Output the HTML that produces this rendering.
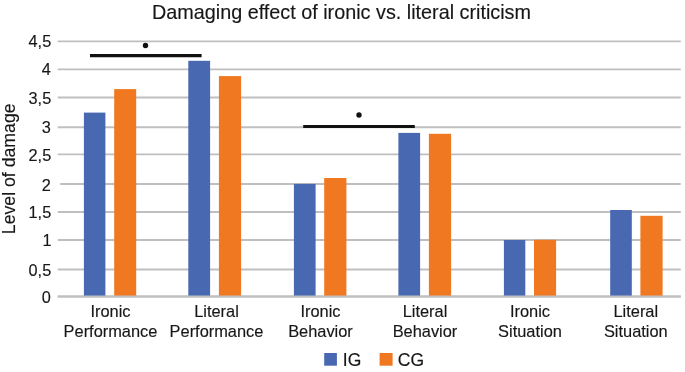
<!DOCTYPE html>
<html lang="en"><head><meta charset="utf-8"><title>Damaging effect of ironic vs. literal criticism</title>
<style>
html,body{margin:0;padding:0;background:#fff;}
body{width:685px;height:372px;overflow:hidden;}
svg{display:block;font-family:"Liberation Sans",Arial,sans-serif;fill:#171717;}
text{stroke:#171717;stroke-width:0.15px;}
</style></head><body>
<svg width="685" height="372" viewBox="0 0 685 372">
<rect width="685" height="372" fill="#fff"/>
<line x1="57.7" x2="680.8" y1="296.50" y2="296.50" stroke="#BFBFBF" stroke-width="1.9"/>
<line x1="57.7" x2="680.8" y1="269.45" y2="269.45" stroke="#BFBFBF" stroke-width="1.9"/>
<line x1="57.7" x2="680.8" y1="240.00" y2="240.00" stroke="#BFBFBF" stroke-width="1.9"/>
<line x1="57.7" x2="680.8" y1="212.00" y2="212.00" stroke="#BFBFBF" stroke-width="1.9"/>
<line x1="60.2" x2="680.8" y1="184.00" y2="184.00" stroke="#BFBFBF" stroke-width="1.9"/>
<line x1="57.7" x2="680.8" y1="154.40" y2="154.40" stroke="#BFBFBF" stroke-width="1.9"/>
<line x1="57.7" x2="680.8" y1="127.20" y2="127.20" stroke="#BFBFBF" stroke-width="1.9"/>
<line x1="57.7" x2="680.8" y1="97.50" y2="97.50" stroke="#BFBFBF" stroke-width="1.9"/>
<line x1="57.7" x2="680.8" y1="69.35" y2="69.35" stroke="#BFBFBF" stroke-width="1.9"/>
<line x1="57.7" x2="680.8" y1="41.35" y2="41.35" stroke="#BFBFBF" stroke-width="1.9"/>
<rect x="83.9" y="112.6" width="21.5" height="183.90" fill="#4868B1"/>
<rect x="114.2" y="89.1" width="22.0" height="207.40" fill="#F07820"/>
<rect x="188.3" y="60.8" width="21.8" height="235.70" fill="#4868B1"/>
<rect x="218.9" y="76.1" width="22.2" height="220.40" fill="#F07820"/>
<rect x="293.9" y="183.9" width="21.7" height="112.60" fill="#4868B1"/>
<rect x="324.2" y="178.0" width="22.2" height="118.50" fill="#F07820"/>
<rect x="398.4" y="132.9" width="21.7" height="163.60" fill="#4868B1"/>
<rect x="428.9" y="133.8" width="22.2" height="162.70" fill="#F07820"/>
<rect x="503.9" y="240.0" width="21.4" height="56.50" fill="#4868B1"/>
<rect x="534.0" y="239.8" width="22.1" height="56.70" fill="#F07820"/>
<rect x="610.2" y="210.0" width="21.6" height="86.50" fill="#4868B1"/>
<rect x="640.4" y="215.8" width="22.2" height="80.70" fill="#F07820"/>
<line x1="57.7" x2="680.8" y1="296.5" y2="296.5" stroke="#BFBFBF" stroke-width="1.9"/>
<line x1="90" x2="201.6" y1="55.7" y2="55.7" stroke="#111" stroke-width="3.2"/>
<circle cx="145.5" cy="45.5" r="2.7" fill="#111"/>
<line x1="303.2" x2="414.8" y1="126.5" y2="126.5" stroke="#111" stroke-width="3.1"/>
<circle cx="359" cy="115.0" r="2.7" fill="#111"/>
<text x="50.8" y="302.90" font-size="16.3" text-anchor="end">0</text>
<text x="51.2" y="275.85" font-size="16.3" text-anchor="end">0,5</text>
<text x="51.6" y="245.70" font-size="16.3" text-anchor="end">1</text>
<text x="51.2" y="218.17" font-size="16.3" text-anchor="end">1,5</text>
<text x="50.8" y="190.70" font-size="16.3" text-anchor="end">2</text>
<text x="51.2" y="160.80" font-size="16.3" text-anchor="end">2,5</text>
<text x="50.8" y="132.80" font-size="16.3" text-anchor="end">3</text>
<text x="51.2" y="103.65" font-size="16.3" text-anchor="end">3,5</text>
<text x="50.8" y="75.10" font-size="16.3" text-anchor="end">4</text>
<text x="51.2" y="46.70" font-size="16.3" text-anchor="end">4,5</text>
<text x="110.5" y="316.7" font-size="16.4" text-anchor="middle">Ironic</text>
<text x="110.5" y="336.5" font-size="16.4" text-anchor="middle">Performance</text>
<text x="216.5" y="316.7" font-size="16.4" text-anchor="middle">Literal</text>
<text x="216.5" y="336.5" font-size="16.4" text-anchor="middle">Performance</text>
<text x="320.5" y="316.7" font-size="16.4" text-anchor="middle">Ironic</text>
<text x="320.5" y="336.5" font-size="16.4" text-anchor="middle">Behavior</text>
<text x="425.0" y="316.7" font-size="16.4" text-anchor="middle">Literal</text>
<text x="425.0" y="336.5" font-size="16.4" text-anchor="middle">Behavior</text>
<text x="530.0" y="316.7" font-size="16.4" text-anchor="middle">Ironic</text>
<text x="530.0" y="336.5" font-size="16.4" text-anchor="middle">Situation</text>
<text x="635.8" y="316.7" font-size="16.4" text-anchor="middle">Literal</text>
<text x="635.8" y="336.5" font-size="16.4" text-anchor="middle">Situation</text>
<text x="341.5" y="18.8" font-size="19.8" text-anchor="middle">Damaging effect of ironic vs. literal criticism</text>
<text transform="translate(15.0,168.8) rotate(-90)" font-size="17.7" text-anchor="middle">Level of damage</text>
<rect x="324.2" y="353.0" width="12.7" height="12.7" fill="#4868B1"/>
<text x="342.8" y="365.7" font-size="17.5">IG</text>
<rect x="379.6" y="353.0" width="13" height="12.7" fill="#F07820"/>
<text x="397.8" y="365.7" font-size="17.5">CG</text>
</svg></body></html>
